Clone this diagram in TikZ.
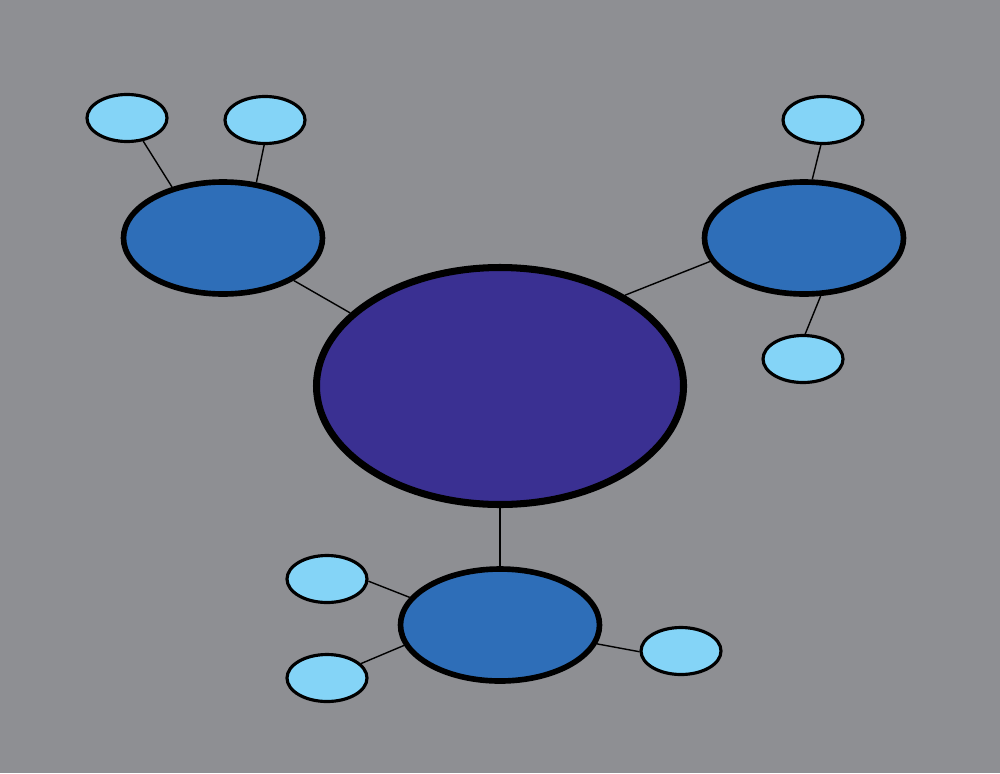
\documentclass[tikz,border=0pt]{standalone}
\usetikzlibrary{shapes.geometric}

\definecolor{bgGray}{RGB}{142,143,147}
\definecolor{hubPurple}{RGB}{58,48,146}
\definecolor{branchBlue}{RGB}{46,110,184}
\definecolor{leafBlue}{RGB}{132,212,247}

\tikzset{
	hubnode/.style={ellipse, draw=black, line width=2.0pt, fill=hubPurple, inner sep=0pt, minimum width=3.67cm, minimum height=2.37cm},
	branchnode/.style={ellipse, draw=black, line width=1.6pt, fill=branchBlue, inner sep=0pt, minimum width=1.99cm, minimum height=1.12cm},
	leafnode/.style={ellipse, draw=black, line width=0.9pt, fill=leafBlue, inner sep=0pt, minimum width=0.80cm, minimum height=0.47cm},
	link/.style={draw=black, line width=0.4pt}
}

\begin{document}
\begin{tikzpicture}
			\fill[bgGray] (0,0) rectangle (10,7.73);
			\useasboundingbox (0,0) rectangle (10,7.73);
			
			\node[hubnode] (hub) at (5.00,3.87){};
			\node[branchnode] (branchLeft) at (2.23,5.35){};
			\node[branchnode] (branchRight) at (8.04,5.35){};
			\node[branchnode] (branchBottom) at (5.00,1.48){};
			
			\node[leafnode] (leafLeftA) at (1.27,6.55){};
			\node[leafnode] (leafLeftB) at (2.65,6.53){};
			\node[leafnode] (leafRightA) at (8.23,6.53){};
			\node[leafnode] (leafRightB) at (8.03,4.14){};
			\node[leafnode] (leafBottomA) at (3.27,1.94){};
			\node[leafnode] (leafBottomB) at (3.27,0.95){};
			\node[leafnode] (leafBottomC) at (6.81,1.22){};
			
			\draw[link] (branchLeft.-31) -- (hub.154);
			\draw[link] (branchRight.-166) -- (hub.36);
			\draw[link] (hub.-90) -- (branchBottom.90);
			
			\draw[link] (leafLeftA.-55) -- (branchLeft.135);
			\draw[link] (leafLeftB.-92) -- (branchLeft.59);
			\draw[link] (leafRightA.-95) -- (branchRight.82);
			\draw[link] (branchRight.-74) -- (leafRightB.85);
			
			\draw[link] (leafBottomA.-3) -- (branchBottom.163);
			\draw[link] (leafBottomB.23) -- (branchBottom.-168);
			\draw[link] (branchBottom.-11) -- (leafBottomC.181);
		\end{tikzpicture}
\end{document}
